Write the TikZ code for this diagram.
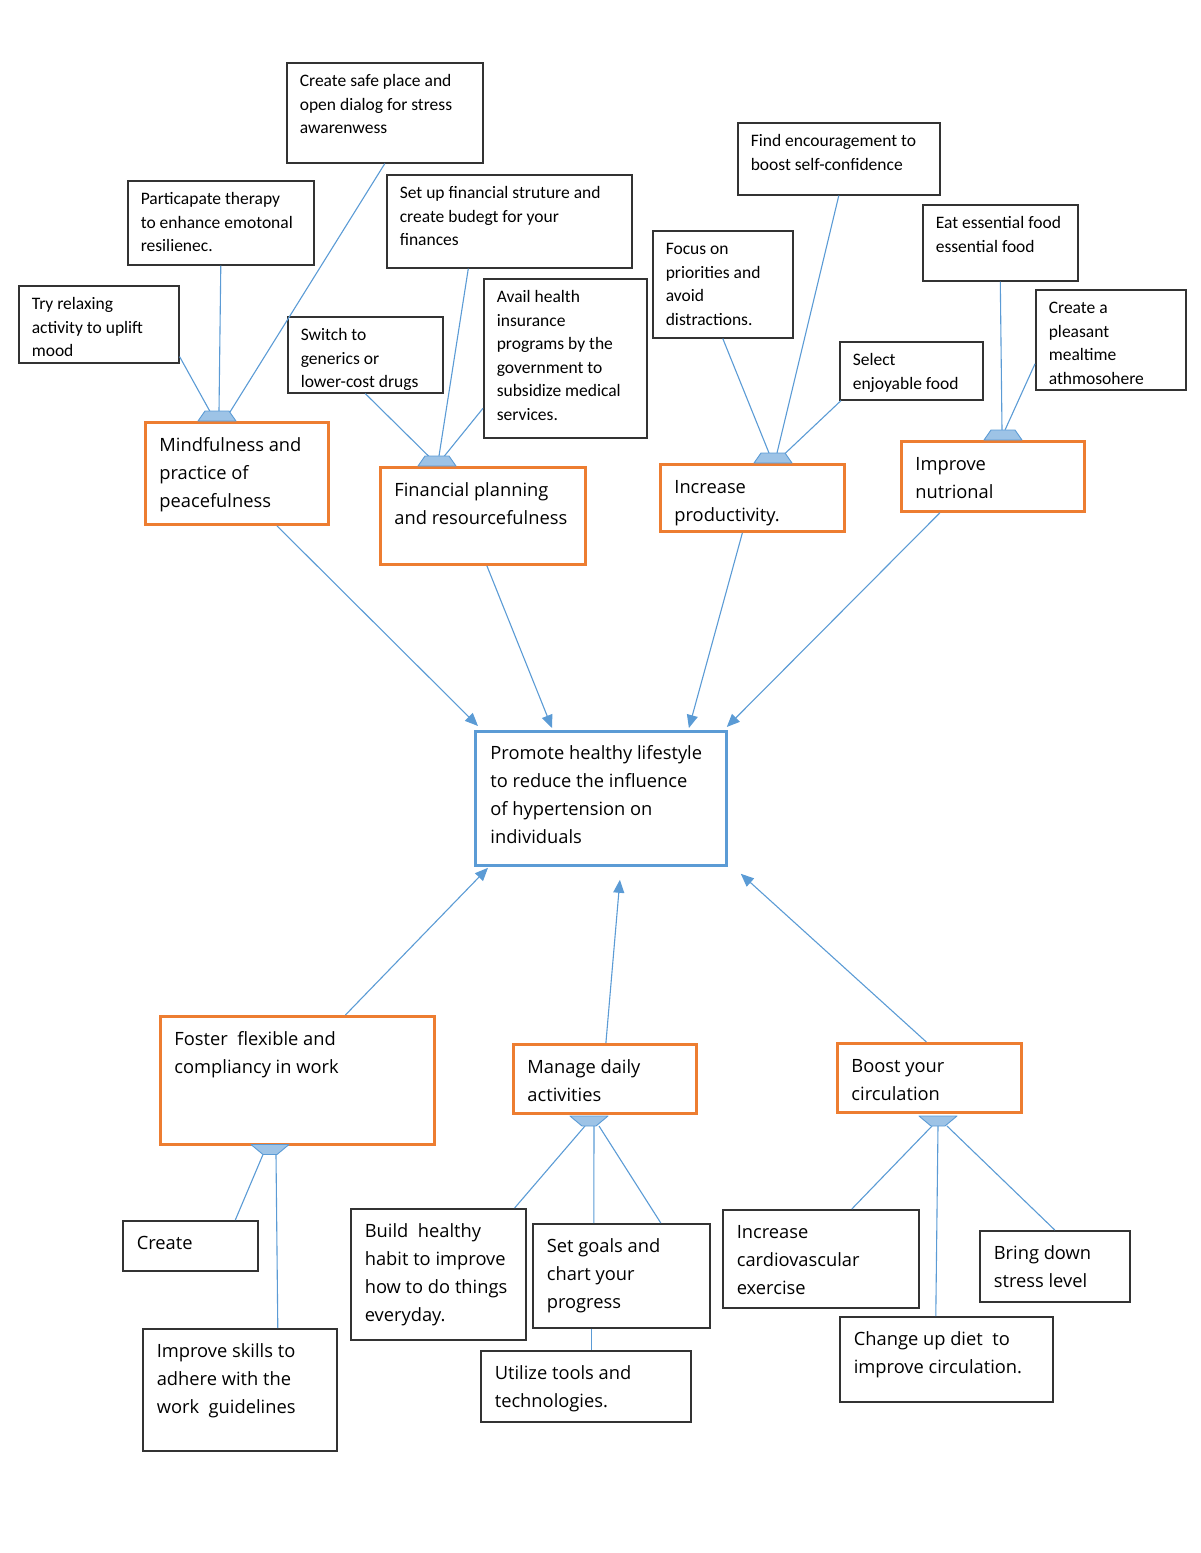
\documentclass[tikz,border=0pt]{standalone}
\usepackage{fontspec}
\setmainfont{Carlito}
\newfontfamily\uifont{Open Sans}
\usetikzlibrary{arrows.meta}

\definecolor{linkblue}{HTML}{5B9BD5}
\definecolor{aimorange}{HTML}{ED7D31}
\definecolor{hubfill}{HTML}{9DC3E6}
\definecolor{boxgray}{HTML}{333333}

\newcommand{\tipfont}{\fontsize{17.5}{23.5}\selectfont}
\newcommand{\uitext}{\uifont\fontsize{18.3}{28}\selectfont}

\begin{document}
\begin{tikzpicture}[
    x=1pt, y=-1pt,
    box/.style n args={5}{rectangle, draw, anchor=north west, inner sep=0pt,
        execute at begin node={\begin{minipage}[c][#2pt][t]{#1pt}#5\leftskip=#3pt\rightskip=-30pt plus 1fil\relax\rule{0pt}{#4pt}},
        execute at end node={\end{minipage}}},
    tip/.style 2 args={box={#1}{#2}{13}{24}{\tipfont}, draw=boxgray, line width=1.6pt},
    aim/.style 2 args={box={#1}{#2}{14}{29}{\uitext}, draw=aimorange, line width=2.8pt},
    act/.style 2 args={box={#1}{#2}{14}{29}{\uitext}, draw=boxgray, line width=1.6pt},
    goalbox/.style 2 args={box={#1}{#2}{15}{28}{\uitext}, draw=linkblue, line width=2.8pt},
    hubline/.style={draw=linkblue, fill=hubfill, line width=0.9pt, line join=round},
    hubup/.pic={\path[hubline] (-19,5) -- (19,5) -- (12,-5) -- (-12,-5) -- cycle;},
    hubdown/.pic={\path[hubline] (-19,-5) -- (19,-5) -- (7,5) -- (-7,5) -- cycle;},
    link/.style={draw=linkblue, line width=1.1pt},
    arrow/.style={link, ->, >={Triangle[length=13pt,width=11pt]}}
]
    \useasboundingbox (0,0) rectangle (1200,1553);

    % tips around the top goals
    \node[tip={196}{100}] (safe) at (286,62) {Create safe place and\\open dialog for stress\\awarenwess};
    \node[tip={186}{84}] (therapy) at (127,180) {Particapate therapy\\to enhance emotonal\\resilienec.};
    \node[tip={160}{77}] (relax) at (18,285) {Try relaxing\\activity to uplift\\mood};
    \node[tip={245}{93}] (finstruct) at (386,174) {Set up financial struture and\\create budegt for your\\finances};
    \node[tip={155}{76}] (generics) at (287,316) {Switch to\\generics or\\lower-cost drugs};
    \node[tip={163}{159}] (insurance) at (483,278) {Avail health\\insurance\\programs by the\\government to\\subsidize medical\\services.};
    \node[tip={202}{72}] (encourage) at (737,122) {Find encouragement to\\boost self-confidence};
    \node[tip={140}{107}] (focus) at (652,230) {Focus on\\priorities and\\avoid\\distractions.};
    \node[tip={155}{76}] (eat) at (922,204) {Eat essential food\\essential food};
    \node[tip={143}{58}] (select) at (839,341) {Select\\enjoyable food};
    \node[tip={150}{100}] (pleasant) at (1035,289) {Create a\\pleasant\\mealtime\\athmosohere};

    % goals
    \node[aim={183}{102}] (mind) at (144,421) {Mindfulness and\\practice of\\peacefulness};
    \node[aim={205}{97}] (finplan) at (379,466) {Financial planning\\and resourcefulness};
    \node[aim={184}{67}] (produc) at (659,463) {Increase\\productivity.};
    \node[aim={183}{70}] (nutri) at (900,440) {Improve\\nutrional};
    \node[goalbox={251}{134}] (goal) at (474,730) {Promote healthy lifestyle\\to reduce the influence\\of hypertension on\\individuals};
    \node[aim={274}{128}] (foster) at (159,1015) {Foster\ \ flexible and\\compliancy in work};
    \node[aim={183}{69}] (manage) at (512,1043) {Manage daily\\activities};
    \node[aim={184}{69}] (boost) at (836,1042) {Boost your\\circulation};

    % actions below
    \node[act={135}{50}] (create) at (122,1220) {Create};
    \node[act={194}{122}] (improve) at (142,1328) {Improve skills to\\adhere with the\\work\ \ guidelines};
    \node[act={175}{131}] (build) at (350,1208) {Build\ \ healthy\\habit to improve\\how to do things\\everyday.};
    \node[act={177}{104}] (goals) at (532,1223) {Set goals and\\chart your\\progress};
    \node[act={210}{71}] (utilize) at (480,1350) {Utilize tools and\\technologies.};
    \node[act={196}{98}] (cardio) at (722,1209) {Increase\\cardiovascular\\exercise};
    \node[act={150}{71}] (bring) at (979,1230) {Bring down\\stress level};
    \node[act={213}{85}] (change) at (839,1316) {Change up diet\ \ to\\improve circulation.};

    \coordinate (mindhub) at (217,416);
    \coordinate (finhub) at (437,461);
    \coordinate (prodhub) at (773,458);
    \coordinate (nutrihub) at (1003,435);
    \coordinate (fosterhub) at (270,1149.5);
    \coordinate (managehub) at (589,1121);
    \coordinate (boosthub) at (938,1121);

    \draw[link] ([yshift=7]relax.south east) -- ([xshift=-7,yshift=4.5]mindhub);
    \draw[link] (therapy.south) -- ([xshift=2,yshift=5]mindhub);
    \draw[link] (safe.south) -- ([xshift=13,yshift=4]mindhub);
    \draw[link] (generics.south) -- ([xshift=-8,yshift=4.5]finhub);
    \draw[link] ([xshift=-41]finstruct.south) -- ([xshift=2,yshift=5]finhub);
    \draw[link] ([yshift=-50]insurance.west) -- ([xshift=7,yshift=4.5]finhub);
    \draw[link] (focus.south) -- ([xshift=-4,yshift=5]prodhub);
    \draw[link] (encourage.south) -- ([xshift=4,yshift=5]prodhub);
    \draw[link] ([xshift=2]select.south west) -- ([xshift=12,yshift=4.5]prodhub);
    \draw[link] (eat.south) -- ([xshift=-1,yshift=5]nutrihub);
    \draw[link] ([yshift=-24]pleasant.west) -- ([xshift=2,yshift=5]nutrihub);

    \draw[arrow] ([xshift=40]mind.south) -- ([xshift=4,yshift=4]goal.north west);
    \draw[arrow] ([xshift=4]finplan.south) -- ([xshift=78,yshift=2]goal.north west);
    \draw[arrow] ([xshift=-10]produc.south) -- ([xshift=88,yshift=2]goal.north);
    \draw[arrow] ([xshift=-53]nutri.south) -- ([xshift=-1,yshift=3]goal.north east);
    \draw[arrow] ([xshift=48]foster.north) -- ([xshift=14,yshift=-1]goal.south west);
    \draw[arrow] ([xshift=1]manage.north) -- ([xshift=19,yshift=-13]goal.south);
    \draw[arrow] ([xshift=-3]boost.north) -- ([xshift=13,yshift=-7]goal.south east);

    \draw[link] ([xshift=45]create.north) -- ([xshift=-7,yshift=-5]fosterhub);
    \draw[link] ([xshift=38]improve.north) -- ([xshift=6,yshift=-5]fosterhub);
    \draw[link] ([xshift=-12]build.north east) -- ([xshift=-4,yshift=-5]managehub);
    \draw[link] ([xshift=-27.5]goals.north) -- ([xshift=5,yshift=-5]managehub);
    \draw[link] ([xshift=39.5]goals.north) -- ([xshift=10,yshift=-5]managehub);
    \draw[link] ([xshift=-30]goals.south) -- ([xshift=-30]goals.south |- utilize.north);
    \draw[link] ([xshift=31]cardio.north) -- ([xshift=-6,yshift=-5]boosthub);
    \draw[link] ([xshift=-10.5]change.north) -- ([yshift=-5]boosthub);
    \draw[link] (bring.north) -- ([xshift=9,yshift=-5]boosthub);

    \foreach \h in {mindhub,finhub,prodhub,nutrihub} \pic at (\h) {hubup};
    \foreach \h in {fosterhub,managehub,boosthub} \pic at (\h) {hubdown};
\end{tikzpicture}
\end{document}
